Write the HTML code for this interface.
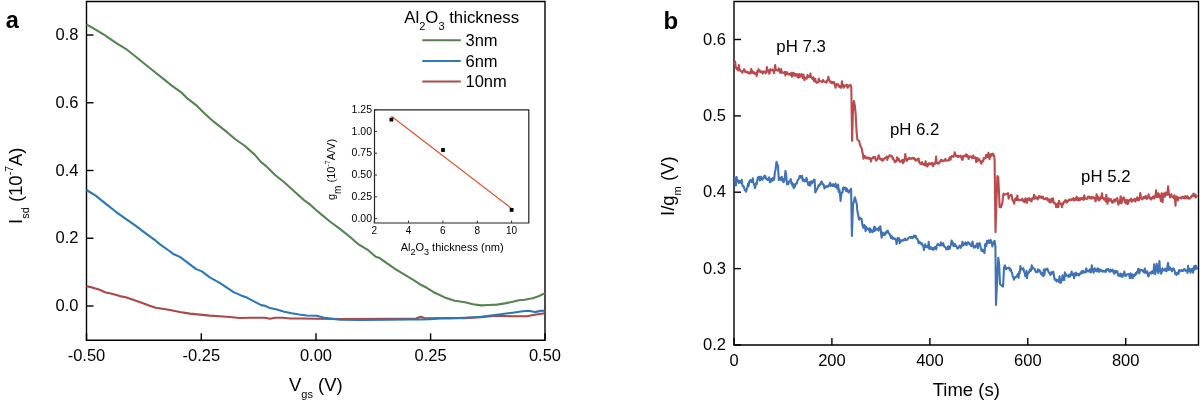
<!DOCTYPE html>
<html><head><meta charset="utf-8"><style>
html,body{margin:0;padding:0;background:#fff;}
svg{display:block;}
text{font-family:"Liberation Sans", Arial, Helvetica, sans-serif;fill:#000;}
</style></head><body>
<svg width="1200" height="402" viewBox="0 0 1200 402">
<text x="5.8" y="27.8" font-size="23.5" font-weight="bold">a</text>
<text x="663.6" y="29.1" font-size="24" font-weight="bold">b</text>
<path d="M86.5,1.5 H545 V340.3 H86.5 Z" fill="none" stroke="#000" stroke-width="1.4"/>
<path d="M86.5,35 h7" stroke="#000" stroke-width="1.4"/>
<text x="78.5" y="40.2" font-size="16.5" text-anchor="end">0.8</text>
<path d="M86.5,102.75 h7" stroke="#000" stroke-width="1.4"/>
<text x="78.5" y="107.95" font-size="16.5" text-anchor="end">0.6</text>
<path d="M86.5,170.5 h7" stroke="#000" stroke-width="1.4"/>
<text x="78.5" y="175.7" font-size="16.5" text-anchor="end">0.4</text>
<path d="M86.5,238.25 h7" stroke="#000" stroke-width="1.4"/>
<text x="78.5" y="243.45" font-size="16.5" text-anchor="end">0.2</text>
<path d="M86.5,306 h7" stroke="#000" stroke-width="1.4"/>
<text x="78.5" y="311.2" font-size="16.5" text-anchor="end">0.0</text>
<path d="M86.5,340.3 v-7" stroke="#000" stroke-width="1.4"/>
<text x="86.5" y="360.8" font-size="16.5" text-anchor="middle">-0.50</text>
<path d="M201.3,340.3 v-7" stroke="#000" stroke-width="1.4"/>
<text x="201.3" y="360.8" font-size="16.5" text-anchor="middle">-0.25</text>
<path d="M316,340.3 v-7" stroke="#000" stroke-width="1.4"/>
<text x="316" y="360.8" font-size="16.5" text-anchor="middle">0.00</text>
<path d="M430.6,340.3 v-7" stroke="#000" stroke-width="1.4"/>
<text x="430.6" y="360.8" font-size="16.5" text-anchor="middle">0.25</text>
<path d="M545,340.3 v-7" stroke="#000" stroke-width="1.4"/>
<text x="545" y="360.8" font-size="16.5" text-anchor="middle">0.50</text>
<text x="289" y="391" font-size="18.5">V<tspan font-size="11" dy="7">gs</tspan><tspan dy="-7"> (V)</tspan></text>
<text transform="translate(22.2,224) rotate(-90)" font-size="18.5">I<tspan font-size="11" dy="7">sd</tspan><tspan dy="-7"> (10</tspan><tspan font-size="10.5" dy="-9.5">-7</tspan><tspan dy="9.5">A)</tspan></text>
<text x="404.3" y="23" font-size="16.8">Al<tspan font-size="11" dy="6.5">2</tspan><tspan dy="-6.5">O</tspan><tspan font-size="11" dy="6.5">3</tspan><tspan dy="-6.5"> thickness</tspan></text>
<path d="M422.3,40.3 H460.8" stroke="#557f4c" stroke-width="2"/>
<text x="465.5" y="46.0" font-size="16.5">3nm</text>
<path d="M422.3,60.9 H460.8" stroke="#2e7bbb" stroke-width="2"/>
<text x="465.5" y="66.6" font-size="16.5">6nm</text>
<path d="M422.3,81.6 H460.8" stroke="#b04a4a" stroke-width="2"/>
<text x="465.5" y="87.3" font-size="16.5">10nm</text>
<path d="M86.5,286.2 92.0,287.4 98.9,289.4 104.9,292.3 111.9,293.7 119.8,296.1 125.8,297.3 133.8,300.1 141.7,302.7 149.7,305.7 155.7,307.7 165.6,309.3 170.0,310.0 179.9,312.0 189.9,313.6 199.8,314.6 209.8,315.6 219.7,316.2 229.7,317.0 239.6,318.0 249.9,317.8 264.9,317.8 270.1,318.8 275.3,317.8 282.8,317.8 290.2,318.5 302.2,318.5 315.0,318.8 340.0,319.0 390.0,318.7 416.0,318.5 420.6,316.8 425.0,318.3 450.0,318.0 465.0,318.1 480.9,317.3 496.8,315.7 512.8,316.3 526.7,316.3 534.7,314.7 544.6,313.3" fill="none" stroke="#ac4649" stroke-width="2.1" stroke-linejoin="round"/>
<path d="M86.5,190.0 96.0,195.9 105.9,203.9 115.9,211.8 125.8,218.8 135.8,225.8 145.7,233.3 155.7,240.7 160.0,244.4 168.0,250.0 173.9,254.3 179.9,256.9 187.9,262.9 195.8,268.9 201.8,271.4 209.8,277.4 219.7,282.8 225.7,286.8 233.6,292.1 241.0,295.4 246.9,297.6 254.4,301.6 261.1,305.1 264.9,305.8 270.1,308.1 276.8,309.6 284.3,311.8 291.7,313.3 299.2,314.5 306.6,315.5 316.7,315.7 325.0,317.9 339.9,319.8 360.0,320.0 390.0,319.8 410.0,319.5 420.0,319.5 430.0,319.3 440.0,318.5 450.0,318.4 465.0,317.7 480.9,316.7 496.8,314.7 512.8,312.7 522.7,311.3 528.7,310.7 534.7,312.1 540.6,310.9 544.6,310.7" fill="none" stroke="#2b78b8" stroke-width="2.1" stroke-linejoin="round"/>
<path d="M86.5,24.3 96.0,29.9 105.9,35.9 115.9,42.8 125.8,48.8 135.8,56.8 145.7,64.7 155.7,72.7 165.6,80.6 170.0,84.3 181.9,92.9 187.9,98.9 195.8,104.8 203.8,112.8 213.7,121.7 227.7,132.7 235.0,139.0 245.0,146.0 254.9,154.9 260.9,161.9 266.8,166.8 274.8,174.8 284.8,182.8 294.7,191.7 304.7,200.7 310.0,204.4 316.0,210.0 321.9,214.9 329.9,221.5 339.9,228.9 349.8,236.8 357.8,243.8 367.7,249.8 375.7,256.7 379.7,258.1 385.0,261.9 395.0,268.9 404.9,274.9 414.9,280.8 420.8,284.8 426.8,287.8 434.8,292.8 444.7,297.4 454.7,300.7 465.0,302.2 473.0,304.2 480.9,305.4 488.9,305.0 496.8,304.6 504.8,303.4 512.8,301.8 518.7,300.2 524.7,299.8 532.7,298.2 538.6,296.2 544.6,293.4" fill="none" stroke="#558450" stroke-width="2.1" stroke-linejoin="round"/>
<path d="M374.5,109.8 H528.8 V223 H374.5 Z" fill="none" stroke="#222" stroke-width="1.2"/>
<path d="M374.5,218.6 h2.5" stroke="#333" stroke-width="1"/>
<text x="372" y="221.8" font-size="10.5" text-anchor="end">0.00</text>
<path d="M374.5,196.8 h2.5" stroke="#333" stroke-width="1"/>
<text x="372" y="200.0" font-size="10.5" text-anchor="end">0.25</text>
<path d="M374.5,175.0 h2.5" stroke="#333" stroke-width="1"/>
<text x="372" y="178.2" font-size="10.5" text-anchor="end">0.50</text>
<path d="M374.5,153.2 h2.5" stroke="#333" stroke-width="1"/>
<text x="372" y="156.4" font-size="10.5" text-anchor="end">0.75</text>
<path d="M374.5,131.4 h2.5" stroke="#333" stroke-width="1"/>
<text x="372" y="134.6" font-size="10.5" text-anchor="end">1.00</text>
<path d="M374.5,109.6 h2.5" stroke="#333" stroke-width="1"/>
<text x="372" y="112.8" font-size="10.5" text-anchor="end">1.25</text>
<path d="M374.3,223 v-2.5" stroke="#333" stroke-width="1"/>
<text x="374.3" y="233.9" font-size="10" text-anchor="middle">2</text>
<path d="M408.6,223 v-2.5" stroke="#333" stroke-width="1"/>
<text x="408.6" y="233.9" font-size="10" text-anchor="middle">4</text>
<path d="M442.9,223 v-2.5" stroke="#333" stroke-width="1"/>
<text x="442.9" y="233.9" font-size="10" text-anchor="middle">6</text>
<path d="M477.3,223 v-2.5" stroke="#333" stroke-width="1"/>
<text x="477.3" y="233.9" font-size="10" text-anchor="middle">8</text>
<path d="M511.6,223 v-2.5" stroke="#333" stroke-width="1"/>
<text x="511.6" y="233.9" font-size="10" text-anchor="middle">10</text>
<text x="400.7" y="251" font-size="11">Al<tspan font-size="9" dy="4">2</tspan><tspan dy="-4">O</tspan><tspan font-size="9" dy="4">3</tspan><tspan dy="-4"> thickness (nm)</tspan></text>
<text transform="translate(334.6,200) rotate(-90)" font-size="11">g<tspan font-size="10" dy="6.3">m</tspan><tspan dy="-6.3"> (10</tspan><tspan font-size="7" dy="-4.5">-7</tspan><tspan dy="4.5">A/V)</tspan></text>
<path d="M391.4,116.3 L511.3,208.2" stroke="#e0522e" stroke-width="1.2"/>
<rect x="389.5" y="117.7" width="3.8" height="3.8" fill="#000"/>
<rect x="441.1" y="148.1" width="3.8" height="3.8" fill="#000"/>
<rect x="509.7" y="208.0" width="3.8" height="3.8" fill="#000"/>
<path d="M734,1.5 H1198.5 V345 H734 Z" fill="none" stroke="#000" stroke-width="1.4"/>
<path d="M734,345.0 h7" stroke="#000" stroke-width="1.4"/>
<text x="726" y="350.1" font-size="16.5" text-anchor="end">0.2</text>
<path d="M734,268.6 h7" stroke="#000" stroke-width="1.4"/>
<text x="726" y="273.7" font-size="16.5" text-anchor="end">0.3</text>
<path d="M734,192.2 h7" stroke="#000" stroke-width="1.4"/>
<text x="726" y="197.3" font-size="16.5" text-anchor="end">0.4</text>
<path d="M734,115.9 h7" stroke="#000" stroke-width="1.4"/>
<text x="726" y="121.0" font-size="16.5" text-anchor="end">0.5</text>
<path d="M734,39.5 h7" stroke="#000" stroke-width="1.4"/>
<text x="726" y="44.6" font-size="16.5" text-anchor="end">0.6</text>
<path d="M734.0,345 v-7" stroke="#000" stroke-width="1.4"/>
<text x="734.0" y="366" font-size="16.5" text-anchor="middle">0</text>
<path d="M831.9,345 v-7" stroke="#000" stroke-width="1.4"/>
<text x="831.9" y="366" font-size="16.5" text-anchor="middle">200</text>
<path d="M929.9,345 v-7" stroke="#000" stroke-width="1.4"/>
<text x="929.9" y="366" font-size="16.5" text-anchor="middle">400</text>
<path d="M1027.8,345 v-7" stroke="#000" stroke-width="1.4"/>
<text x="1027.8" y="366" font-size="16.5" text-anchor="middle">600</text>
<path d="M1125.7,345 v-7" stroke="#000" stroke-width="1.4"/>
<text x="1125.7" y="366" font-size="16.5" text-anchor="middle">800</text>
<text x="966.25" y="396.3" font-size="18.5" text-anchor="middle">Time (s)</text>
<text transform="translate(673.9,216) rotate(-90)" font-size="18.5">I/g<tspan font-size="11" dy="7">m</tspan><tspan dy="-7"> (V)</tspan></text>
<text x="776.3" y="51.8" font-size="16.8">pH 7.3</text>
<text x="889.9" y="134.6" font-size="16.8">pH 6.2</text>
<text x="1081.1" y="182.3" font-size="16.8">pH 5.2</text>
<path d="M734.5,64.9 735.1,61.5 735.8,67.5 736.4,68.2 737.0,69.4 737.6,68.1 738.2,70.6 738.8,65.0 739.4,69.2 740.0,69.6 740.6,71.1 741.2,71.4 741.8,71.8 742.4,72.7 743.0,70.8 743.5,70.4 744.1,69.1 744.7,70.6 745.3,72.2 745.9,71.8 746.5,71.9 747.1,71.6 747.7,72.6 748.3,73.2 748.9,72.4 749.5,73.3 750.1,72.1 750.7,73.4 751.3,68.8 751.9,72.4 752.5,71.1 753.1,73.3 753.7,72.0 754.3,73.3 754.9,73.9 755.5,73.4 756.1,72.9 756.7,76.0 757.3,71.0 757.9,71.8 758.5,69.2 759.1,71.6 759.7,70.4 760.3,71.9 760.9,72.1 761.5,71.6 762.1,71.6 762.7,73.6 763.3,71.6 763.9,71.5 764.5,71.6 765.1,72.2 765.7,73.3 766.3,72.4 766.9,67.0 767.5,71.5 768.1,70.0 768.7,70.9 769.3,73.7 769.8,72.4 770.4,69.3 771.0,69.5 771.6,70.3 772.2,69.6 772.8,70.5 773.4,70.4 774.0,73.3 774.6,69.3 775.2,65.1 775.8,70.3 776.4,69.7 777.0,70.3 777.6,70.6 778.2,69.6 778.8,68.4 779.4,70.6 780.0,72.7 780.6,72.8 781.2,69.1 781.8,72.4 782.4,72.7 783.0,72.5 783.6,72.7 784.2,73.3 784.8,71.8 785.4,75.5 786.0,73.7 786.6,72.1 787.2,73.0 787.8,74.2 788.3,73.7 788.9,74.5 789.5,74.0 790.1,74.3 790.7,75.0 791.3,72.7 791.9,76.7 792.5,74.3 793.1,72.8 793.7,75.4 794.3,73.4 794.9,75.8 795.5,74.2 796.1,74.9 796.7,74.1 797.3,76.9 797.9,74.5 798.5,77.6 799.1,74.1 799.7,77.1 800.3,75.7 800.9,75.6 801.4,74.1 802.0,75.5 802.6,78.1 803.2,74.5 803.8,75.8 804.4,80.2 805.0,78.2 805.6,78.3 806.2,77.5 806.8,78.7 807.4,75.1 808.0,77.0 808.6,76.3 809.2,76.5 809.8,77.2 810.4,73.6 811.0,77.1 811.6,77.4 812.2,78.6 812.8,79.1 813.4,77.3 814.0,80.9 814.6,81.3 815.2,78.7 815.8,81.1 816.4,82.7 817.0,82.7 817.6,82.6 818.2,82.0 818.8,78.8 819.4,81.2 820.0,81.4 820.6,81.3 821.2,81.3 821.8,81.2 822.4,82.0 823.0,79.9 823.6,81.3 824.2,81.5 824.8,81.5 825.3,82.1 825.9,81.6 826.5,82.7 827.1,80.6 827.7,80.4 828.3,76.8 828.8,78.4 829.4,80.8 830.0,81.2 830.6,82.7 831.2,81.7 831.9,83.0 832.5,82.1 833.1,83.3 833.8,82.0 834.4,82.8 835.0,85.0 835.6,87.7 836.2,85.0 836.9,84.0 837.5,84.9 838.1,84.2 838.8,85.3 839.4,87.2 840.0,86.2 840.6,86.4 841.2,87.9 841.9,81.4 842.5,86.1 843.1,84.5 843.8,87.6 844.4,85.6 845.0,85.4 845.6,85.8 846.2,85.9 846.9,84.7 847.5,87.8 848.1,87.6 848.7,86.3 849.4,85.1 850.0,85.5 850.6,85.0 851.3,87.4 852.1,141.0 853.0,110.0 853.9,101.0 854.9,106.0 855.7,114.8 856.6,132.3 857.4,139.7 859.2,141.0 859.9,144.6 861.8,148.8 862.3,152.1 862.9,154.0 863.5,158.8 864.2,156.5 864.8,155.8 865.4,157.7 865.9,157.0 866.5,158.5 867.0,157.5 867.6,158.0 868.1,157.7 868.7,158.7 869.3,158.6 869.9,157.8 870.4,159.0 871.0,161.6 871.6,158.8 872.2,158.2 872.7,157.5 873.3,157.0 873.9,157.9 874.5,157.1 875.1,157.0 875.6,159.9 876.2,160.7 876.8,159.7 877.4,159.3 878.0,158.3 878.6,155.2 879.1,156.5 879.7,158.8 880.3,158.6 880.9,159.6 881.5,158.9 882.1,159.8 882.6,160.9 883.2,159.2 883.8,159.6 884.4,158.5 884.9,157.9 885.5,157.8 886.1,157.9 886.7,156.5 887.3,159.9 887.9,158.0 888.5,156.8 889.0,156.6 889.6,155.2 890.2,155.6 890.8,156.1 891.4,156.1 892.0,156.2 892.5,158.6 893.1,157.9 893.7,159.6 894.2,160.3 894.8,162.2 895.4,161.7 896.0,160.9 896.5,161.3 897.1,157.4 897.7,160.0 898.3,158.5 898.9,159.2 899.5,161.5 900.0,161.6 900.6,161.6 901.2,160.9 901.8,161.4 902.4,159.9 903.0,163.2 903.5,159.8 904.1,161.8 904.7,159.9 905.3,154.0 905.9,159.0 906.5,159.8 907.0,160.8 907.6,159.1 908.2,159.0 908.8,158.2 909.4,157.9 910.0,158.8 910.5,158.4 911.1,158.8 911.7,158.4 912.3,157.9 912.8,158.2 913.4,158.8 914.0,157.9 914.6,159.6 915.2,159.1 915.7,160.7 916.3,159.8 916.9,160.2 917.5,159.1 918.0,159.8 918.6,158.5 919.2,162.2 919.8,163.1 920.4,163.6 921.0,163.1 921.5,164.2 922.1,162.1 922.7,164.0 923.3,164.6 923.9,164.0 924.5,164.2 925.0,165.5 925.6,161.2 926.2,165.4 926.8,164.1 927.4,166.6 928.0,164.1 928.5,164.9 929.1,163.2 929.7,164.0 930.3,163.9 930.9,164.3 931.4,163.1 932.0,164.5 932.6,163.0 933.2,166.2 933.7,164.9 934.3,163.6 934.9,164.0 935.5,162.8 936.1,156.6 936.6,162.9 937.2,162.7 937.8,163.7 938.4,163.8 939.0,162.4 939.6,162.6 940.1,161.4 940.7,160.0 941.3,159.9 941.9,161.4 942.5,160.6 943.1,160.8 943.6,161.2 944.2,160.2 944.8,160.7 945.4,158.8 945.9,160.4 946.5,160.8 947.1,160.5 947.7,160.5 948.3,160.0 948.8,160.4 949.4,157.9 950.0,157.2 950.6,159.7 951.1,157.0 951.7,156.0 952.3,156.1 952.9,156.8 953.5,156.7 954.1,155.5 954.7,152.2 955.2,154.4 955.8,156.0 956.4,156.0 957.0,155.9 957.6,157.0 958.2,155.7 958.9,156.8 959.5,156.3 960.1,156.1 960.7,155.6 961.4,157.8 962.0,159.6 962.6,159.8 963.2,155.8 963.9,156.0 964.5,156.1 965.1,156.1 965.7,154.6 966.2,156.8 966.8,154.6 967.4,156.1 968.0,156.0 968.6,159.0 969.2,156.6 969.8,156.5 970.3,156.7 970.9,156.5 971.5,157.0 972.1,158.2 972.7,157.1 973.2,155.5 973.8,157.8 974.4,157.9 975.0,157.7 975.6,157.4 976.2,162.1 976.8,158.5 977.3,158.0 977.9,160.9 978.5,158.7 979.1,159.2 979.7,160.4 980.2,160.4 980.8,162.7 981.4,163.6 982.0,161.4 982.6,161.5 983.2,161.2 983.7,158.0 984.3,158.7 984.9,158.2 985.5,158.3 986.0,155.1 986.6,154.8 987.2,157.0 987.8,157.0 988.4,152.9 988.9,156.1 989.5,159.1 990.1,154.4 990.7,156.6 991.2,156.1 991.8,154.0 992.4,155.3 993.0,153.7 993.5,155.3 994.1,155.3 994.6,160.0 995.5,232.3 996.4,202.0 997.4,176.1 998.2,177.3 998.9,189.8 999.6,207.2 1001.1,207.2 1002.4,202.2 1003.0,196.7 1003.6,193.5 1004.2,194.1 1004.9,194.6 1005.5,194.3 1006.1,194.3 1006.8,194.1 1007.4,193.5 1008.0,193.2 1008.6,198.7 1009.3,196.1 1009.9,196.0 1010.5,195.6 1011.1,194.6 1011.7,195.4 1012.3,199.7 1012.9,200.5 1013.5,201.7 1014.2,203.7 1014.8,199.8 1015.4,198.3 1016.0,200.1 1016.7,199.8 1017.3,195.5 1017.9,200.3 1018.5,199.4 1019.2,200.1 1019.8,199.7 1020.4,200.1 1021.0,200.3 1021.6,199.7 1022.2,198.7 1022.7,199.8 1023.3,201.3 1023.9,200.5 1024.5,202.1 1025.1,198.9 1025.7,198.3 1026.3,200.1 1026.9,202.9 1027.4,199.6 1028.0,198.5 1028.6,199.8 1029.2,198.3 1029.8,198.5 1030.4,200.8 1031.0,201.0 1031.6,201.3 1032.2,198.2 1032.8,198.9 1033.4,198.2 1034.1,194.7 1034.7,198.8 1035.3,196.5 1035.9,198.3 1036.5,198.4 1037.1,197.7 1037.7,199.5 1038.3,197.7 1038.9,196.1 1039.5,197.6 1040.1,196.6 1040.7,197.4 1041.2,196.6 1041.8,198.0 1042.4,196.8 1043.0,196.9 1043.6,198.6 1044.2,199.1 1044.8,199.2 1045.4,198.4 1046.0,198.5 1046.5,199.2 1047.1,198.2 1047.7,200.5 1048.3,199.4 1048.9,199.4 1049.5,202.3 1050.0,199.5 1050.6,202.4 1051.2,199.8 1051.8,198.9 1052.4,201.6 1053.0,198.4 1053.7,202.5 1054.3,203.4 1054.9,203.6 1055.5,203.3 1056.1,207.1 1056.7,207.0 1057.3,204.6 1057.9,203.4 1058.5,207.0 1059.0,200.7 1059.6,203.8 1060.2,203.1 1060.8,203.7 1061.4,204.8 1062.0,207.2 1062.6,203.3 1063.2,204.1 1063.8,202.0 1064.4,201.5 1065.0,200.7 1065.6,200.0 1066.2,202.6 1066.7,201.1 1067.3,202.1 1067.9,200.6 1068.5,200.9 1069.1,199.6 1069.7,199.8 1070.3,200.0 1070.9,200.3 1071.6,199.1 1072.2,199.7 1072.8,199.7 1073.4,198.1 1074.0,200.6 1074.7,199.0 1075.3,199.8 1075.9,198.9 1076.5,196.8 1077.1,199.9 1077.7,197.7 1078.4,199.9 1079.0,200.4 1079.6,198.4 1080.2,199.9 1080.8,198.1 1081.3,198.1 1081.9,199.2 1082.5,198.5 1083.1,197.6 1083.7,199.9 1084.3,195.2 1084.8,198.8 1085.4,198.4 1086.0,198.6 1086.6,199.0 1087.2,198.8 1087.8,196.9 1088.3,197.7 1088.9,196.5 1089.5,197.7 1090.1,198.4 1090.7,198.3 1091.3,196.9 1091.9,198.6 1092.5,198.3 1093.1,197.1 1093.7,197.2 1094.3,198.1 1094.9,198.5 1095.4,201.3 1096.0,200.4 1096.6,194.2 1097.2,197.8 1097.8,196.5 1098.4,199.7 1099.0,200.5 1099.6,197.8 1100.2,199.5 1100.8,198.4 1101.4,196.4 1102.0,193.4 1102.6,198.3 1103.2,197.8 1103.8,199.4 1104.4,198.3 1105.0,198.7 1105.7,201.6 1106.3,194.9 1106.9,200.5 1107.5,203.8 1108.1,200.2 1108.7,198.3 1109.3,199.1 1109.9,200.8 1110.5,199.3 1111.1,199.4 1111.7,201.5 1112.3,202.8 1112.9,201.2 1113.5,202.0 1114.2,199.4 1114.8,201.4 1115.4,200.8 1116.0,199.3 1116.6,200.4 1117.2,198.1 1117.8,201.2 1118.4,204.7 1119.0,203.3 1119.6,203.1 1120.2,199.2 1120.8,196.2 1121.4,203.4 1122.0,201.6 1122.7,199.6 1123.3,197.9 1123.9,197.4 1124.5,199.2 1125.1,202.3 1125.7,203.2 1126.3,200.5 1126.9,199.8 1127.5,204.3 1128.1,202.9 1128.7,200.2 1129.3,201.5 1129.9,199.9 1130.5,200.0 1131.2,198.6 1131.8,201.8 1132.4,200.6 1133.0,200.8 1133.6,199.5 1134.2,199.2 1134.8,199.1 1135.4,201.7 1136.0,198.9 1136.6,199.4 1137.2,197.4 1137.8,200.3 1138.4,198.1 1139.0,200.1 1139.7,198.1 1140.3,193.0 1140.9,197.8 1141.5,198.4 1142.1,199.4 1142.7,198.9 1143.3,197.0 1143.9,197.4 1144.5,198.0 1145.1,196.8 1145.7,195.9 1146.3,198.6 1146.8,199.0 1147.4,197.2 1148.0,197.1 1148.6,194.2 1149.2,197.9 1149.8,198.4 1150.4,197.7 1151.0,199.4 1151.6,197.8 1152.2,198.4 1152.8,196.8 1153.5,196.3 1154.1,198.6 1154.7,196.7 1155.3,197.0 1156.1,190.4 1157.0,197.0 1157.7,196.9 1158.3,193.3 1159.0,194.5 1159.6,197.5 1160.3,196.2 1160.9,201.0 1161.5,193.4 1162.0,197.7 1162.6,202.1 1163.2,193.6 1163.8,194.8 1164.3,193.7 1164.9,196.8 1165.5,192.6 1166.0,193.2 1166.6,192.6 1167.2,195.0 1168.1,186.3 1169.0,195.0 1169.5,194.8 1170.1,197.5 1170.7,195.5 1171.3,194.2 1171.9,195.8 1172.5,197.2 1173.1,197.3 1173.7,198.1 1174.3,195.3 1174.9,196.9 1175.5,205.6 1176.1,196.8 1176.7,196.5 1177.3,197.0 1177.9,200.2 1178.5,197.8 1179.1,198.2 1179.7,197.8 1180.3,197.5 1180.9,198.1 1181.5,198.5 1182.2,196.7 1182.8,196.8 1183.4,197.0 1184.0,198.2 1184.6,198.1 1185.2,196.2 1185.8,198.4 1186.4,196.6 1187.0,196.2 1187.6,196.2 1188.2,198.7 1188.8,198.3 1189.3,198.0 1189.9,198.5 1190.5,197.8 1191.1,197.0 1191.7,195.7 1192.3,196.3 1192.9,195.5 1193.5,193.6 1194.1,196.3 1194.6,196.2 1195.2,194.6 1195.8,197.6 1196.3,195.7 1196.9,195.9 1197.5,195.5" fill="none" stroke="#bb4a4d" stroke-width="2.1" stroke-linejoin="round"/>
<path d="M734.5,176.9 735.0,178.1 735.5,183.6 736.0,185.5 736.6,177.0 737.2,181.2 737.7,179.9 738.3,181.2 738.9,183.0 739.4,181.0 740.0,181.3 740.5,182.0 741.1,182.8 741.7,179.8 742.2,184.3 742.8,186.2 743.4,186.1 744.0,187.1 744.7,190.0 745.3,189.5 745.9,191.8 746.6,190.2 747.4,187.3 748.0,183.9 748.6,186.1 749.2,181.5 749.8,181.4 750.4,179.9 751.0,181.7 751.6,181.9 752.2,181.4 752.8,178.4 753.4,182.8 754.1,184.4 754.9,188.1 755.5,186.1 756.1,183.0 756.8,184.2 757.4,179.5 758.0,177.5 758.6,176.9 759.2,176.9 759.9,180.5 760.5,178.3 761.1,176.7 761.8,178.5 762.4,179.9 763.0,178.6 763.6,178.5 764.1,176.3 764.7,175.7 765.3,176.1 765.9,178.2 766.4,179.1 767.0,178.7 767.5,180.0 768.1,179.8 768.7,179.6 769.2,177.2 769.8,182.1 770.4,182.3 770.9,181.4 771.5,179.0 772.0,180.8 772.6,178.4 773.2,177.9 773.7,180.1 774.3,178.4 774.9,171.8 775.5,170.0 776.5,161.9 778.0,166.4 778.8,179.9 779.4,177.4 780.0,180.0 780.6,178.9 781.2,177.3 781.8,176.9 782.3,180.8 782.9,179.1 783.5,182.2 784.0,181.3 784.8,177.2 785.5,170.9 786.2,175.3 787.0,184.3 787.6,184.0 788.2,184.2 788.9,181.7 789.5,181.0 790.1,181.1 790.7,179.1 791.3,183.6 791.9,182.4 792.5,185.7 793.1,184.1 793.7,188.1 794.3,186.5 794.9,186.7 795.5,183.7 796.1,183.5 796.7,183.6 797.3,181.4 797.9,179.7 798.5,179.2 799.1,178.2 799.7,176.1 800.3,175.9 800.9,177.7 801.5,176.7 802.1,175.8 802.7,180.6 803.3,179.1 804.0,179.9 804.6,181.5 805.2,180.4 805.8,180.9 806.5,177.8 807.1,181.3 807.7,182.9 808.3,184.9 808.9,183.0 809.5,181.9 810.1,185.8 810.7,182.9 811.2,181.3 811.8,183.4 812.4,182.6 812.9,181.3 813.5,181.1 814.0,179.5 814.6,179.9 815.3,192.5 815.9,191.0 816.6,189.9 817.2,189.2 817.8,187.7 818.5,185.2 819.1,185.8 819.7,185.2 820.3,183.3 820.8,184.0 821.4,181.4 822.0,182.1 822.6,184.2 823.2,184.0 823.8,185.1 824.4,188.4 825.0,187.3 825.6,186.8 826.1,186.3 826.7,187.2 827.2,186.0 827.8,186.5 828.4,186.2 828.9,185.3 829.5,184.3 830.1,182.8 830.7,186.0 831.3,185.1 831.9,184.7 832.5,185.8 833.1,184.2 833.7,184.9 834.3,186.5 835.0,185.2 835.6,183.6 836.2,187.3 836.9,187.7 837.5,188.7 838.1,184.6 838.7,192.0 839.4,189.6 840.0,193.9 840.6,201.0 841.2,194.9 841.8,192.6 842.5,192.6 843.1,187.7 843.7,187.4 844.3,189.3 844.9,189.2 845.5,187.7 846.2,191.3 846.8,188.5 847.4,191.1 848.0,190.7 848.6,192.7 849.2,190.4 849.9,190.6 850.5,190.1 851.1,188.7 851.9,236.0 853.0,205.0 854.9,197.2 856.9,204.8 857.2,209.9 858.7,218.0 859.2,219.8 859.8,217.8 860.4,218.1 860.9,218.8 861.6,218.9 862.4,224.8 863.1,227.5 863.9,227.8 864.5,225.0 865.0,227.1 865.6,231.0 866.2,226.8 866.7,229.1 867.3,228.5 867.9,228.6 868.5,229.9 869.2,228.4 869.8,232.2 870.4,228.9 871.0,231.5 871.7,230.2 872.3,232.3 872.9,231.3 873.5,231.3 874.2,226.8 874.8,230.9 875.4,227.5 876.0,229.7 876.7,229.5 877.3,229.1 877.9,228.8 878.5,230.6 879.2,227.3 879.8,227.2 880.4,226.3 881.0,232.6 881.6,237.6 882.2,235.9 882.8,232.6 883.5,234.7 884.1,234.9 884.7,234.9 885.3,232.5 886.0,233.5 886.6,231.9 887.2,230.9 887.8,230.6 888.5,233.3 889.1,233.2 889.7,234.5 890.3,235.8 891.0,238.1 891.6,235.9 892.2,237.2 892.8,238.8 893.5,237.9 894.1,238.5 894.7,239.2 895.3,238.7 896.0,240.1 896.6,244.0 897.2,240.9 897.8,237.8 898.4,239.0 899.1,238.3 899.7,243.4 900.3,240.0 900.9,240.8 901.5,241.4 902.1,240.2 902.8,240.1 903.4,239.7 904.0,240.5 904.6,239.7 905.2,238.5 905.9,239.9 906.5,239.9 907.1,239.9 907.7,239.0 908.4,238.1 909.0,237.4 909.6,237.2 910.2,236.8 910.9,238.0 911.5,236.9 912.1,237.3 912.7,238.1 913.4,236.7 914.0,235.5 914.6,236.0 915.2,237.3 915.8,235.8 916.5,238.5 917.1,238.7 917.7,239.6 918.3,242.1 918.9,243.4 919.5,241.7 920.2,242.9 920.8,243.1 921.4,244.1 922.0,243.4 922.7,245.6 923.3,245.9 923.9,250.2 924.5,246.3 925.1,244.3 925.7,246.4 926.3,247.2 926.9,246.2 927.5,246.9 928.1,247.6 928.7,241.8 929.3,248.9 929.9,247.5 930.5,248.6 931.0,247.2 931.6,248.8 932.2,248.2 932.8,249.6 933.4,249.9 934.0,247.6 934.5,248.8 935.1,247.0 935.6,248.3 936.2,249.3 936.8,245.4 937.3,244.8 937.9,243.9 938.5,244.9 939.1,245.0 939.7,245.6 940.3,245.2 940.9,242.4 941.5,245.3 942.1,245.2 942.7,244.7 943.3,243.2 943.9,246.1 944.5,246.9 945.1,246.9 945.7,247.6 946.3,249.4 946.9,249.1 947.5,248.9 948.1,246.3 948.7,249.2 949.3,247.2 949.8,248.5 950.4,245.9 951.0,244.6 951.6,240.5 952.2,242.6 952.8,242.4 953.4,246.0 953.9,245.4 954.5,245.8 955.0,243.9 955.6,245.5 956.2,246.3 956.7,246.5 957.3,248.4 957.9,248.5 958.4,247.8 959.0,247.3 959.5,245.7 960.1,246.1 960.7,247.9 961.2,245.6 961.8,246.1 962.4,241.7 963.0,245.5 963.6,243.6 964.2,244.7 964.8,244.0 965.4,242.3 966.0,243.8 966.6,245.2 967.2,242.8 967.8,242.4 968.4,242.4 969.0,243.7 969.6,243.3 970.2,245.0 970.8,244.9 971.3,246.2 971.9,245.0 972.5,241.5 973.1,244.8 973.7,247.6 974.3,247.3 974.9,246.2 975.5,247.3 976.1,245.4 976.7,244.3 977.3,243.4 977.9,248.4 978.5,245.0 979.1,244.2 979.7,243.1 980.3,245.7 980.9,248.0 981.5,250.7 982.1,249.5 982.7,251.3 983.3,250.0 983.9,251.0 984.5,253.1 985.1,244.4 985.7,243.9 986.3,246.2 987.0,240.7 987.6,243.2 988.2,242.0 988.8,240.4 989.5,243.0 990.1,242.4 990.7,239.9 991.2,242.3 991.8,242.6 992.4,246.5 992.9,242.5 993.5,244.1 994.0,241.3 994.6,240.9 995.4,247.0 996.0,305.0 997.4,273.6 998.3,257.9 999.2,264.8 1000.0,284.0 1001.8,285.7 1003.0,286.6 1003.5,278.3 1004.0,267.5 1004.5,266.6 1005.0,265.4 1005.6,268.5 1006.1,269.2 1006.8,268.1 1007.4,268.3 1008.1,268.3 1008.7,267.5 1009.4,268.1 1010.0,270.4 1010.7,269.1 1011.4,271.8 1012.0,272.6 1012.7,276.3 1013.4,277.7 1014.0,279.7 1014.6,277.2 1015.3,277.7 1016.0,276.9 1016.6,276.2 1017.2,275.4 1017.9,273.8 1018.6,277.8 1019.2,271.8 1019.8,273.1 1020.4,266.0 1021.0,268.7 1021.5,269.4 1022.1,269.4 1022.7,268.3 1023.4,268.2 1024.0,271.3 1024.7,272.9 1025.3,276.2 1025.9,276.0 1026.5,270.9 1027.0,278.2 1027.6,273.8 1028.2,273.3 1028.8,272.7 1029.4,271.2 1030.0,269.3 1030.5,271.0 1031.1,270.2 1031.7,265.3 1032.3,266.6 1032.9,268.6 1033.4,268.0 1034.0,268.7 1034.6,268.9 1035.1,270.1 1035.7,271.8 1036.3,272.1 1036.9,271.7 1037.5,272.2 1038.0,269.2 1038.6,271.3 1039.2,270.1 1039.8,270.5 1040.4,272.3 1041.0,273.9 1041.5,272.7 1042.1,274.9 1042.7,275.3 1043.3,276.2 1043.9,269.6 1044.5,274.7 1045.0,269.4 1045.6,269.7 1046.2,269.2 1046.8,269.6 1047.4,268.6 1048.1,271.0 1048.7,272.3 1049.3,273.0 1049.9,273.5 1050.4,275.1 1051.0,273.8 1051.6,272.2 1052.2,273.2 1052.7,273.6 1053.3,271.7 1054.0,275.9 1054.7,279.7 1055.3,279.4 1055.9,279.4 1056.5,281.4 1057.1,280.1 1057.7,280.1 1058.3,281.6 1058.9,281.5 1059.5,276.2 1060.1,282.6 1060.7,282.9 1061.3,281.7 1061.9,279.6 1062.5,275.2 1063.1,279.6 1063.7,276.9 1064.3,280.0 1064.9,272.3 1065.5,276.0 1066.1,274.3 1066.7,275.7 1067.3,275.6 1067.9,275.7 1068.5,276.8 1069.2,274.5 1069.8,276.6 1070.4,275.1 1071.0,275.1 1071.6,271.5 1072.2,275.2 1072.9,274.3 1073.5,273.6 1074.1,278.3 1074.7,275.0 1075.3,273.1 1075.9,272.6 1076.5,275.4 1077.2,274.4 1077.8,273.9 1078.4,274.0 1079.0,275.5 1079.6,273.6 1080.2,274.0 1080.9,273.6 1081.5,271.2 1082.1,272.8 1082.7,273.0 1083.3,270.8 1083.9,271.9 1084.5,272.4 1085.1,271.9 1085.7,272.4 1086.3,268.2 1086.9,271.4 1087.5,270.6 1088.1,271.1 1088.7,271.4 1089.3,270.3 1089.9,269.3 1090.5,272.2 1091.1,272.2 1091.8,265.4 1092.4,269.9 1093.0,268.9 1093.6,272.7 1094.2,270.1 1094.8,268.3 1095.5,270.2 1096.1,271.0 1096.7,271.4 1097.3,269.0 1097.9,268.3 1098.5,269.3 1099.1,271.9 1099.7,269.4 1100.3,269.7 1101.0,270.8 1101.6,270.3 1102.2,271.7 1102.8,270.5 1103.4,270.9 1104.0,271.7 1104.6,271.5 1105.2,270.7 1105.8,271.9 1106.4,269.2 1107.0,270.1 1107.7,269.7 1108.3,268.8 1108.9,270.6 1109.5,271.8 1110.1,271.6 1110.7,269.7 1111.3,271.3 1111.9,271.3 1112.6,269.6 1113.2,270.9 1113.8,273.1 1114.4,273.7 1115.0,270.7 1115.7,272.6 1116.3,271.1 1116.9,271.2 1117.5,271.6 1118.1,275.4 1118.8,274.4 1119.4,276.0 1120.0,275.0 1120.6,273.6 1121.2,276.5 1121.8,274.2 1122.5,277.0 1123.1,274.1 1123.7,275.2 1124.3,271.5 1124.9,274.7 1125.5,276.0 1126.2,275.7 1126.8,274.5 1127.4,274.4 1128.0,274.3 1128.6,274.1 1129.2,274.8 1129.8,278.2 1130.4,273.4 1130.9,277.7 1131.5,275.4 1132.1,274.4 1132.7,278.2 1133.3,275.7 1133.9,274.7 1134.5,275.8 1135.1,275.3 1135.7,273.1 1136.3,274.2 1137.0,271.9 1137.6,272.3 1138.2,268.9 1138.8,269.2 1139.4,273.4 1140.0,269.7 1140.6,270.1 1141.2,270.1 1141.8,270.4 1142.4,270.0 1143.0,271.6 1143.7,271.2 1144.3,272.7 1144.9,268.6 1145.5,272.0 1146.1,272.9 1146.7,273.0 1147.3,271.4 1147.9,275.4 1148.5,276.4 1149.2,273.4 1149.8,273.2 1150.4,272.4 1151.0,273.4 1151.6,273.4 1152.2,271.2 1152.9,272.8 1153.5,273.2 1154.1,264.3 1154.7,273.0 1155.2,274.2 1155.7,271.0 1156.7,263.7 1157.7,271.0 1158.3,273.3 1158.8,271.3 1159.4,261.1 1160.0,270.3 1160.6,270.4 1161.2,273.7 1161.8,272.2 1162.3,268.3 1162.9,270.3 1163.5,269.7 1164.1,270.5 1164.7,270.3 1165.2,268.7 1165.8,270.7 1166.4,271.3 1167.0,270.0 1168.0,263.0 1169.0,270.0 1169.6,269.6 1170.1,267.4 1170.7,269.0 1171.3,269.1 1171.9,271.4 1172.5,268.7 1173.1,269.5 1173.6,268.4 1174.2,269.9 1174.8,271.4 1175.4,274.3 1176.0,273.0 1176.6,274.8 1177.2,273.5 1177.8,272.7 1178.5,273.8 1179.1,270.0 1179.7,271.2 1180.3,271.2 1180.9,270.5 1181.5,269.9 1182.2,270.9 1182.8,270.9 1183.4,270.8 1184.0,269.0 1184.6,269.3 1185.2,269.8 1185.8,270.8 1186.4,270.5 1186.9,270.6 1187.5,273.0 1188.1,265.8 1188.7,269.4 1189.3,271.0 1189.9,269.0 1190.5,272.6 1191.1,270.1 1191.7,269.0 1192.3,268.6 1193.0,272.6 1193.6,270.1 1194.2,266.1 1194.8,269.4 1195.4,267.6 1196.0,265.7 1196.8,268.6 1197.5,267.0" fill="none" stroke="#4072b6" stroke-width="2.1" stroke-linejoin="round"/>
</svg>
</body></html>
